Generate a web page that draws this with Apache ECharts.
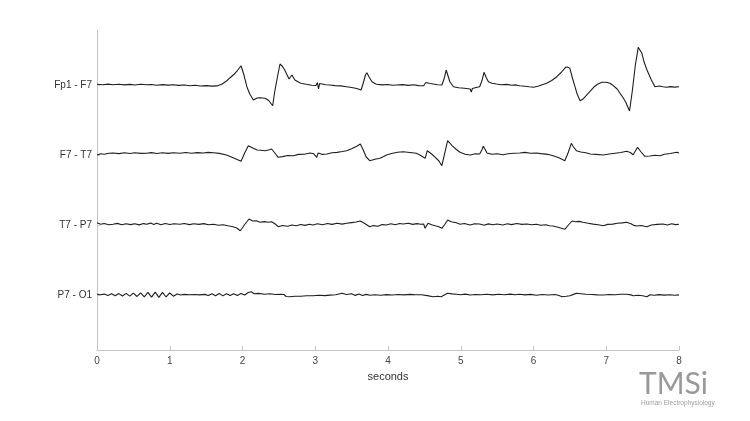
<!DOCTYPE html>
<html>
<head>
<meta charset="utf-8">
<script src="https://cdn.jsdelivr.net/npm/echarts@6/dist/echarts.min.js"></script>
<style>
html,body{margin:0;padding:0;background:#fff;}
#chart{width:750px;height:421px;}
</style>
</head>
<body>
<div id="chart"></div>
<script>
// Channel names, bottom to top
const channels = ['P7 - O1', 'T7 - P7', 'F7 - T7', 'Fp1 - F7'];
const xTicks = [0, 1, 2, 3, 4, 5, 6, 7, 8];

// [seconds, amplitude] samples
const fp1F7 = [[0,0.7],[0.08,0.2],[0.15,0.9],[0.22,0.3],[0.3,0.8],[0.38,0.1],[0.45,0.6],[0.52,0],[0.6,0.7],[0.68,0.2],[0.75,0.5],[0.82,-0.2],[0.9,0.4],[0.98,-0.1],[1.05,0.3],[1.12,-0.4],[1.2,0],[1.28,-0.7],[1.35,-0.3],[1.42,-1],[1.5,-0.6],[1.58,-1.1],[1.65,-0.9],[1.72,1],[1.78,4],[1.83,7.3],[1.88,10.5],[1.93,14.5],[1.98,19.3],[2.02,10],[2.06,-1.7],[2.1,-9],[2.15,-15],[2.2,-13],[2.24,-12.7],[2.31,-13.3],[2.36,-15.5],[2.415,-20.7],[2.44,-8],[2.48,8],[2.515,21],[2.55,18.5],[2.58,15],[2.62,9],[2.64,6],[2.68,10],[2.72,5],[2.745,3.3],[2.8,1.8],[2.88,0.7],[2.95,-0.2],[3.01,-0.5],[3.03,2.5],[3.045,-4],[3.06,1.5],[3.08,-0.5],[3.14,0.3],[3.2,0],[3.27,-0.6],[3.35,-0.9],[3.43,-1.7],[3.5,-2.5],[3.57,-3.5],[3.63,-5],[3.66,2],[3.69,10],[3.71,12.3],[3.74,8],[3.78,3.3],[3.84,0.7],[3.92,0.1],[4.0,0.5],[4.06,-0.3],[4.12,0],[4.2,0.4],[4.28,-0.4],[4.35,0.2],[4.42,-0.6],[4.49,-0.7],[4.52,2.5],[4.54,3.3],[4.58,1.5],[4.62,1],[4.68,0.2],[4.74,0],[4.77,6],[4.8,15],[4.83,8],[4.85,3.3],[4.9,-1.7],[4.97,-2.8],[5.05,-3.3],[5.13,-4],[5.145,-7],[5.16,-3.5],[5.21,-2.5],[5.26,-1.7],[5.29,4],[5.32,12.7],[5.35,7.5],[5.38,3.3],[5.43,1.8],[5.49,1],[5.56,0.2],[5.63,0.6],[5.7,-0.3],[5.76,0.1],[5.81,-0.7],[5.88,-1.2],[5.94,-1.8],[6.0,-2.3],[6.06,-1.2],[6.12,0.3],[6.18,1.7],[6.25,4.5],[6.32,8.3],[6.38,12.5],[6.44,17.7],[6.47,17.9],[6.5,16.7],[6.535,7],[6.57,-1.7],[6.6,-9],[6.64,-15.7],[6.68,-14],[6.73,-10],[6.78,-6],[6.83,-2],[6.88,0.8],[6.94,2.7],[7.0,2.8],[7.05,1.7],[7.1,-0.8],[7.15,-4],[7.19,-8.3],[7.23,-12.5],[7.27,-17.5],[7.32,-26],[7.36,-5],[7.4,20],[7.44,37.7],[7.49,31.7],[7.52,23],[7.56,15],[7.62,5],[7.67,-1.7],[7.69,0],[7.73,-1],[7.78,-1.8],[7.83,-2.3],[7.88,-1.6],[7.94,-2.1],[8.0,-1.7]];

const f7T7 = [[0,0],[0.05,1.2],[0.1,0.8],[0.16,1.8],[0.22,2],[0.3,1.4],[0.38,2.2],[0.45,1.5],[0.52,2.3],[0.6,1.6],[0.68,1.7],[0.75,2.4],[0.82,1.5],[0.9,2.2],[0.98,1.6],[1.05,2.3],[1.14,1.7],[1.22,2.5],[1.3,1.8],[1.38,2.4],[1.46,2],[1.53,2.6],[1.6,2.3],[1.68,1.6],[1.78,0],[1.88,-3],[1.98,-6.3],[2.03,2],[2.08,9.3],[2.14,7],[2.2,5],[2.25,4.8],[2.31,4.3],[2.37,5.3],[2.4,6],[2.45,1.5],[2.49,-2.3],[2.55,-1.6],[2.62,-0.5],[2.7,-0.7],[2.77,0.6],[2.85,0.8],[2.93,2],[2.98,1.2],[3.02,-2.3],[3.04,2],[3.1,0.6],[3.16,1],[3.23,2.2],[3.3,2.6],[3.37,3.5],[3.43,4.3],[3.5,6.3],[3.57,8.8],[3.62,11],[3.66,5],[3.7,-2],[3.75,-5.7],[3.82,-4.2],[3.89,-3.3],[3.94,-1.5],[3.98,0],[4.05,1.5],[4.13,2.8],[4.21,3.3],[4.3,2.5],[4.39,1.7],[4.45,-0.5],[4.51,-3.3],[4.54,4.3],[4.6,1],[4.65,-2.3],[4.7,-6],[4.74,-10.7],[4.78,2],[4.82,14.3],[4.85,12],[4.88,9.3],[4.94,5.5],[4.99,2.7],[5.06,0.8],[5.13,0],[5.2,1.2],[5.26,1],[5.29,5],[5.31,8.7],[5.34,5],[5.36,2],[5.43,0.7],[5.5,1.3],[5.58,0.3],[5.65,1.2],[5.73,1.8],[5.81,2],[5.88,2.6],[5.96,1.8],[6.04,2],[6.1,1.4],[6.17,0.9],[6.22,0.3],[6.27,-0.7],[6.35,-2.8],[6.43,-5.7],[6.48,3],[6.52,11.7],[6.55,8],[6.59,4.3],[6.65,3],[6.72,2.2],[6.78,1],[6.86,0.6],[6.96,0],[7.04,1],[7.12,1.8],[7.2,2.5],[7.28,3.7],[7.33,2.5],[7.37,0.3],[7.43,7.7],[7.48,3],[7.53,-1.3],[7.6,-1],[7.67,-0.3],[7.74,-0.7],[7.8,0.8],[7.88,1.5],[7.97,2.7],[8,2]];

const t7P7 = [[0,2.3],[0.05,0.8],[0.1,1.5],[0.16,0.3],[0.22,0.7],[0.28,1.6],[0.34,0.2],[0.4,1.2],[0.46,0.4],[0.52,1.3],[0.58,0.1],[0.64,1.4],[0.68,0.7],[0.74,1.9],[0.78,0.6],[0.82,1.7],[0.88,0.3],[0.94,1.5],[1.0,0.5],[1.06,1.3],[1.14,0.7],[1.2,1.5],[1.27,0.4],[1.33,1.2],[1.4,0.6],[1.47,1.4],[1.53,0.2],[1.6,0.7],[1.67,-0.3],[1.73,0.3],[1.8,-0.8],[1.87,-1.7],[1.92,-3],[1.97,-5.7],[2.03,0.5],[2.09,6],[2.14,4],[2.19,4.3],[2.24,2.7],[2.3,3.4],[2.35,2.8],[2.4,3.3],[2.45,1],[2.49,-1.7],[2.55,-0.5],[2.62,-1.2],[2.68,0],[2.74,-0.7],[2.8,0.5],[2.86,-0.4],[2.92,0.8],[2.97,0],[3.03,1.2],[3.1,0.3],[3.17,1.5],[3.23,0.6],[3.3,1.8],[3.37,0.9],[3.43,1.7],[3.5,2.4],[3.56,3],[3.62,4],[3.68,1.5],[3.75,-1.7],[3.8,-0.6],[3.86,-1.3],[3.92,0.4],[3.98,0],[4.04,1.2],[4.1,0.3],[4.16,1.5],[4.21,1],[4.28,1.8],[4.34,0.6],[4.4,1.4],[4.45,0.8],[4.49,1],[4.51,-3.3],[4.55,1.7],[4.6,0.3],[4.65,-0.8],[4.7,-1.8],[4.74,-3.3],[4.78,0.5],[4.82,5],[4.87,3.2],[4.94,2.3],[4.99,0.8],[5.05,1.5],[5.13,0],[5.19,1.3],[5.26,1],[5.32,-0.3],[5.38,1.1],[5.44,0.2],[5.5,1],[5.58,0],[5.64,1.2],[5.7,0.4],[5.77,1.5],[5.84,0.6],[5.91,1],[5.97,0.2],[6.04,0.8],[6.1,-0.2],[6.17,0.3],[6.22,-0.8],[6.27,-1],[6.35,-2.5],[6.43,-4.3],[6.48,0],[6.53,4],[6.58,3.3],[6.63,3.6],[6.68,2.7],[6.75,1.8],[6.82,0.9],[6.89,0.2],[6.96,-0.7],[7.02,0.6],[7.09,0.9],[7.15,1.8],[7.22,2.1],[7.28,2.7],[7.34,1.2],[7.38,-0.4],[7.42,-1],[7.48,-0.5],[7.56,-1.7],[7.62,0],[7.7,0.6],[7.78,1],[7.84,0],[7.9,1.3],[7.95,0.4],[8,0.7]];

const p7O1 = [[0,0.7],[0.05,0.2],[0.1,0.9],[0.15,-0.5],[0.2,1.2],[0.25,-0.8],[0.3,1.4],[0.35,-1],[0.4,1.6],[0.45,-1.2],[0.5,1.8],[0.55,-1.5],[0.6,2.2],[0.65,-1.8],[0.7,2.6],[0.75,-2.2],[0.8,2.8],[0.85,-2.4],[0.9,2.6],[0.95,-2],[1.0,2],[1.05,-1.2],[1.1,1],[1.15,0],[1.2,0.6],[1.27,0.2],[1.34,0.5],[1.41,0.1],[1.48,0.6],[1.53,-0.6],[1.58,1.2],[1.63,-0.8],[1.68,1.4],[1.73,-0.9],[1.78,1.3],[1.83,-0.6],[1.88,1.2],[1.93,-0.5],[1.98,1.6],[2.03,0],[2.08,2.5],[2.12,3.3],[2.16,1.2],[2.22,1.6],[2.3,0.8],[2.38,1.2],[2.45,0.5],[2.52,0.8],[2.57,0.5],[2.585,2.3],[2.6,-1.5],[2.65,-1.7],[2.72,-1.2],[2.8,-1.3],[2.88,-0.8],[2.97,-0.7],[3.05,-0.3],[3.13,-0.6],[3.2,-0.1],[3.28,0.3],[3.37,1.7],[3.43,0.5],[3.5,1.2],[3.55,-0.4],[3.6,0.9],[3.65,-0.6],[3.7,0.6],[3.75,-0.2],[3.82,0.3],[3.9,-0.2],[3.98,0.4],[4.06,0],[4.14,0.5],[4.22,0.1],[4.3,0.6],[4.38,0.2],[4.46,0.3],[4.54,-0.6],[4.62,-1.7],[4.68,-1.2],[4.73,-1.7],[4.82,1.7],[4.88,1.1],[4.94,0.7],[5.0,0.2],[5.06,0.9],[5.13,0],[5.2,0.5],[5.28,0.2],[5.36,0.7],[5.44,0.1],[5.52,0.8],[5.6,0.3],[5.68,0.9],[5.75,0.2],[5.81,0.7],[5.88,0.1],[5.96,0.6],[6.04,-0.2],[6.12,0.5],[6.2,0],[6.3,0.5],[6.36,-0.8],[6.39,-1.7],[6.45,-1.3],[6.5,-0.7],[6.55,0.6],[6.59,1.7],[6.65,1.3],[6.72,0.8],[6.8,0.5],[6.88,0.1],[6.96,0],[7.04,0.5],[7.12,0.2],[7.2,0.8],[7.28,0.7],[7.34,0.1],[7.37,-0.7],[7.44,-0.2],[7.5,-0.8],[7.56,-1.7],[7.6,0.3],[7.66,-0.2],[7.72,0.4],[7.8,-0.1],[7.88,0.3],[7.94,-0.2],[8,0.1]];

const traces = [p7O1, t7P7, f7T7, fp1F7];
const SCALE = 70; // amplitude units per channel spacing

const chart = echarts.init(document.getElementById('chart'), null, {renderer: 'canvas'});
const series = traces.map((tr, i) => ({
  type: 'line',
  name: channels[i],
  data: tr.map(p => [p[0], i + p[1] / SCALE]),
  showSymbol: false,
  symbol: 'none',
  lineStyle: {color: '#1e1e1e', width: 1.1},
  emphasis: {disabled: true},
  silent: true
}));

chart.setOption({
  animation: false,
  backgroundColor: '#ffffff',
  grid: {left: 97, right: 71, top: 30, bottom: 71, containLabel: false},
  xAxis: {
    type: 'value', min: 0, max: 8, interval: 1,
    axisLine: {show: true, onZero: false, lineStyle: {color: '#c4c4c4', width: 1}},
    axisTick: {show: true, inside: true, length: 4, lineStyle: {color: '#c4c4c4'}},
    axisLabel: {color: '#444', fontSize: 10, fontFamily: 'Liberation Sans', margin: 6,
      formatter: v => xTicks.includes(v) ? String(v) : ''},
    splitLine: {show: false},
    name: 'seconds', nameLocation: 'middle', nameGap: 21,
    nameTextStyle: {color: '#333', fontSize: 11, fontFamily: 'Liberation Sans'}
  },
  yAxis: {
    type: 'value', min: -0.786, max: 3.786,
    axisLine: {show: true, onZero: false, lineStyle: {color: '#c4c4c4', width: 1}},
    axisTick: {show: true, inside: true, length: 3, customValues: [0, 1, 2, 3], lineStyle: {color: '#c4c4c4'}},
    axisLabel: {color: '#333', fontSize: 10, fontFamily: 'Liberation Sans', margin: 5,
      customValues: [0, 1, 2, 3],
      formatter: v => channels[Math.round(v)] || ''},
    splitLine: {show: false}
  },
  graphic: [
    {type: 'text', left: 639, top: 369, style: {text: 'TMSi', fontSize: 30, fontFamily: 'Lato', fontWeight: 'normal', fill: '#999999'}},
    {type: 'text', left: 641, top: 400, style: {text: 'Human Electrophysiology', fontSize: 6.5, fontFamily: 'Liberation Sans', fill: '#a0a0a0'}}
  ],
  series: series
});
</script>
</body>
</html>
